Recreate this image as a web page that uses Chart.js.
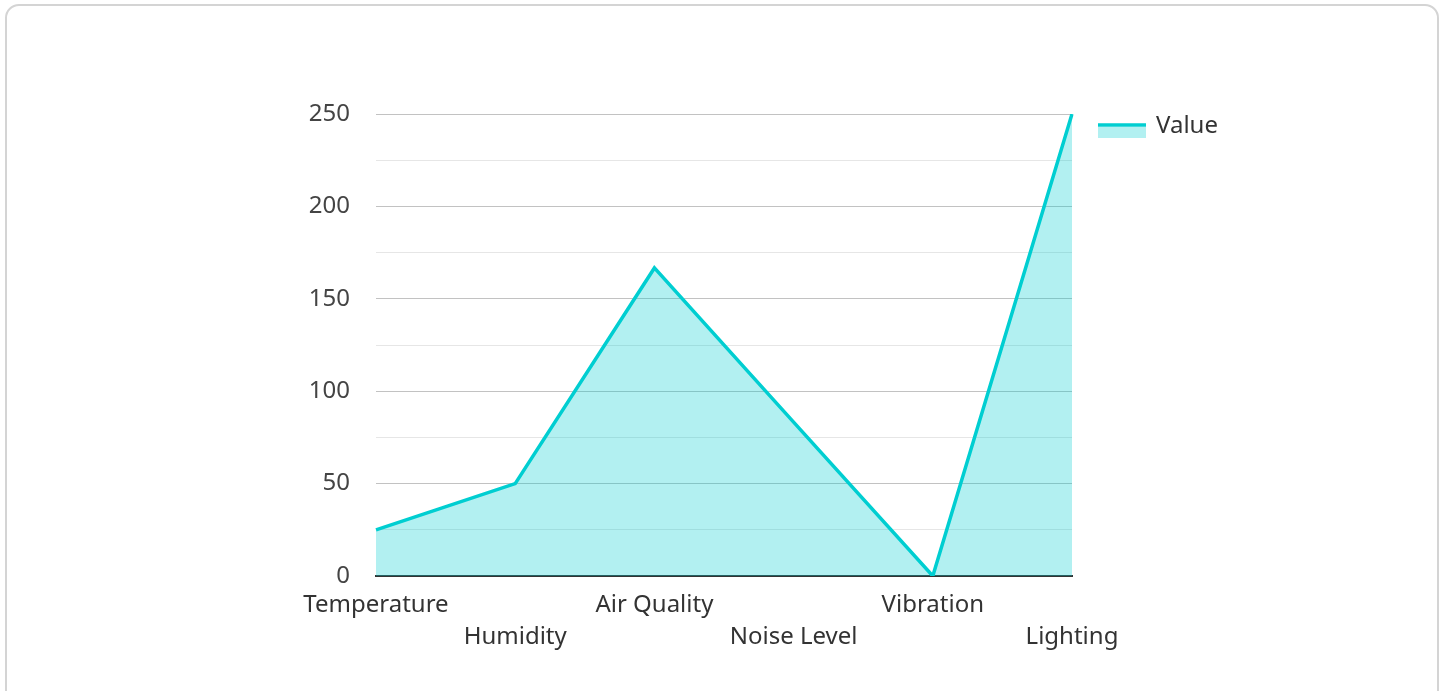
<!DOCTYPE html>
<html>
<head>
<meta charset="utf-8">
<script src="https://cdn.jsdelivr.net/npm/chart.js"></script>
<style>
  html, body { margin: 0; padding: 0; background: #fff; overflow: hidden; }
  #card {
    position: absolute; left: 5px; top: 4px; width: 1434px; height: 720px;
    border: 2px solid #d4d4d4; border-radius: 14px; box-sizing: border-box;
  }
  #wrap { position: absolute; left: 0; top: 0; width: 1445px; height: 691px; }
</style>
</head>
<body>
<div id="card"></div>
<div id="wrap"><canvas id="linechart" width="1445" height="691"></canvas></div>
<script>
var sensorLabels = ["Temperature", "Humidity", "Air Quality", "Noise Level", "Vibration", "Lighting"];
var sensorValues = [25, 50, 166.7, 83.3, 0, 250];
var seriesName = "Value";
var yMax = 250;
var yStep = 25;

var lineColor = "#00CED1";
var fillColor = "rgba(0, 206, 209, 0.3)";
var textColor = "#333333";

Chart.defaults.font.family = "'Noto Sans', sans-serif";

// legend: line on top, fill swatch under it, label to the right
var sideLegend = {
  id: "sideLegend",
  afterDraw: function(chart) {
    var c = chart.ctx;
    var x = chart.chartArea.right + 26;
    var y = 125;
    c.save();
    c.fillStyle = fillColor;
    c.fillRect(x, y + 2, 48, 11);
    c.strokeStyle = lineColor;
    c.lineWidth = 3.5;
    c.beginPath();
    c.moveTo(x, y);
    c.lineTo(x + 48, y);
    c.stroke();
    c.fillStyle = textColor;
    c.font = "24px 'Noto Sans', sans-serif";
    c.textBaseline = "middle";
    c.fillText(seriesName, x + 58, y + 1);
    c.restore();
  }
};

var ctx = document.getElementById("linechart").getContext("2d");
var myChart = new Chart(ctx, {
  type: 'line',
  data: {
    labels: sensorLabels,
    datasets: [{
      label: seriesName,
      data: sensorValues,
      borderColor: lineColor,
      backgroundColor: fillColor,
      borderWidth: 3.5,
      fill: 'origin',
      tension: 0,
      pointRadius: 0,
      pointHoverRadius: 0
    }]
  },
  options: {
    responsive: false,
    animation: false,
    layout: {
      padding: { left: 296, right: 373, top: 114, bottom: 35 }
    },
    plugins: {
      legend: { display: false },
      tooltip: { enabled: false }
    },
    scales: {
      x: {
        offset: false,
        grid: { display: false, drawTicks: false },
        border: { display: true, color: "#333333", width: 2 },
        ticks: {
          autoSkip: false,
          maxRotation: 0,
          padding: 13,
          color: textColor,
          font: { size: 24, lineHeight: 1.33 },
          callback: function(value, index) {
            var name = sensorLabels[index];
            return index % 2 === 1 ? ["", name] : name;
          }
        },
        afterFit: function(scale) { scale.height = 80; }
      },
      y: {
        min: 0,
        max: yMax,
        border: { display: false },
        grid: {
          drawTicks: false,
          color: function(c) {
            if (c.tick.value === 0) return "#333333";
            return c.tick.value % 50 === 0 ? "#c2c2c2" : "#e6e6e6";
          },
          lineWidth: function(c) { return c.tick.value === 0 ? 2 : 1; }
        },
        ticks: {
          stepSize: yStep,
          padding: 26,
          color: "#444444",
          font: { size: 24 },
          callback: function(value) {
            return value % 50 === 0 ? String(value) : "";
          }
        },
        afterFit: function(scale) { scale.width = 80; }
      }
    }
  },
  plugins: [sideLegend]
});
</script>
</body>
</html>
